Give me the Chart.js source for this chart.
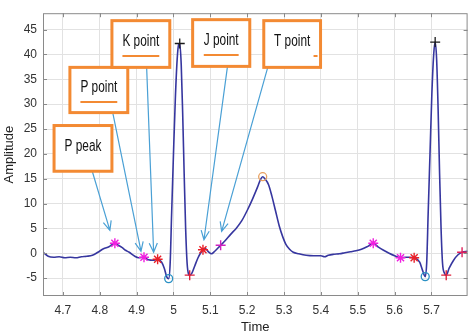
<!DOCTYPE html>
<html>
<head>
<meta charset="utf-8">
<title>ECG fiducial points</title>
<script src="https://cdn.jsdelivr.net/npm/chart.js@4.4.0/dist/chart.umd.min.js"></script>
<style>
  html, body { margin: 0; padding: 0; background: #fff; }
  #wrap { width: 474px; height: 336px; }
</style>
</head>
<body>
<div id="wrap"><canvas id="ecg" width="474" height="336"></canvas></div>
<script>
// ECG trace: time (s) and amplitude
const traceTime = [
  4.646, 4.660, 4.675, 4.690, 4.705, 4.720, 4.735, 4.750, 4.765, 4.780,
  4.795, 4.810, 4.825, 4.841, 4.850, 4.860, 4.870, 4.880, 4.895, 4.905,
  4.920, 4.932, 4.945, 4.957, 4.968, 4.975, 4.982, 4.987, 4.991, 4.995,
  5.000, 5.005, 5.010, 5.014, 5.017, 5.021, 5.025, 5.029, 5.033, 5.037,
  5.041, 5.044, 5.050, 5.058, 5.066, 5.074, 5.080, 5.087, 5.095, 5.103,
  5.112, 5.120, 5.128, 5.140, 5.155, 5.170, 5.185, 5.200, 5.215, 5.228,
  5.236, 5.242, 5.248, 5.258, 5.267, 5.277, 5.287, 5.297, 5.305, 5.315,
  5.325, 5.340, 5.360, 5.380, 5.400, 5.410, 5.420, 5.435, 5.450, 5.465,
  5.480, 5.495, 5.510, 5.525, 5.542, 5.555, 5.570, 5.585, 5.600, 5.616,
  5.630, 5.640, 5.653, 5.668, 5.676, 5.683, 5.687, 5.691, 5.696, 5.701,
  5.706, 5.710, 5.714, 5.718, 5.722, 5.726, 5.730, 5.735, 5.740, 5.748,
  5.760, 5.772, 5.783, 5.798
];
const traceAmp = [
  0.2, -0.6, -0.8, -0.7, -0.9, -0.8, -0.9, -0.7, -0.6, -0.4,
  0.2, 0.9, 1.3, 2.0, 1.6, 1.2, 0.6, 0.2, -0.6, -0.9,
  -0.8, -1.3, -1.4, -1.2, -1.8, -3.0, -4.8, -5.1, -2.0, 8.0,
  20.0, 31.0, 39.0, 42.0, 42.2, 38.0, 28.0, 16.0, 5.0, -2.0,
  -4.2, -4.4, -4.0, -2.5, -1.0, 0.1, 0.7, 0.9, 0.3, -0.1,
  0.4, 1.0, 1.6, 2.5, 3.8, 5.0, 6.5, 8.6, 11.0, 13.3,
  14.8, 15.4, 15.0, 13.8, 11.5, 8.5, 5.5, 3.2, 1.8, 0.8,
  0.2, -0.1, -0.4, -0.5, -0.5, -0.7, -0.4, -0.2, -0.1, 0.1,
  0.3, 0.5, 0.8, 1.3, 2.0, 1.3, 0.6, 0.0, -0.5, -0.9,
  -0.8, -0.8, -0.9, -1.8, -3.5, -4.7, -2.0, 8.0, 20.0, 32.0,
  40.0, 42.5, 39.0, 29.0, 16.0, 5.0, -2.0, -4.0, -4.4, -3.0,
  -1.4, -0.3, 0.2, 0.4
];

// Detected fiducial points: [time, amplitude]
const pPeaks   = [[4.841, 2.0], [5.542, 2.0]];
const pPoints  = [[4.920, -0.8], [5.616, -0.9]];
const kPoints  = [[4.957, -1.2], [5.653, -0.9]];
const qPoints  = [[4.987, -5.1], [5.683, -4.7]];
const rPeaks   = [[5.017, 42.2], [5.710, 42.5]];
const sPoints  = [[5.044, -4.4], [5.740, -4.4]];
const jPoints  = [[5.080, 0.7]];
const tOnsets  = [[5.128, 1.6]];
const tPeaks   = [[5.242, 15.4]];
const endPoints = [[5.783, 0.2]];

// Axis ticks
const xTickValues = [4.7, 4.8, 4.9, 5.0, 5.1, 5.2, 5.3, 5.4, 5.5, 5.6, 5.7];
const xTickLabels = ['4.7', '4.8', '4.9', '5', '5.1', '5.2', '5.3', '5.4', '5.5', '5.6', '5.7'];
const yTickValues = [-5, 0, 5, 10, 15, 20, 25, 30, 35, 40, 45];
const yTickLabels = ['-5', '0', '5', '10', '15', '20', '25', '30', '35', '40', '45'];

// Callout boxes: label, box extent [t0, t1, ampTop, ampBottom], target point
const calloutLabels = ['P peak', 'P point', 'K point', 'J point', 'T point'];
const calloutBoxes = [
  [4.676, 4.833, 25.7, 16.5],
  [4.719, 4.876, 37.4, 28.3],
  [4.833, 4.990, 46.8, 37.4],
  [5.052, 5.207, 47.0, 37.6],
  [5.245, 5.399, 46.8, 37.4]
];
const calloutTargets = [pPeaks[0], pPoints[0], kPoints[0], jPoints[0], tOnsets[0]];

const toXY = arr => arr.map(p => ({ x: p[0], y: p[1] }));
const traceData = traceTime.map((t, i) => ({ x: t, y: traceAmp[i] }));

function markerSet(points, style, color, radius, width) {
  return {
    data: toXY(points),
    showLine: false,
    pointStyle: style,
    pointRadius: radius,
    pointBorderColor: color,
    pointBackgroundColor: 'rgba(0,0,0,0)',
    pointBorderWidth: width,
    borderColor: color,
    backgroundColor: 'rgba(0,0,0,0)'
  };
}

// Frame, inward ticks, arrows and callout boxes
const decorations = {
  id: 'decorations',
  afterDatasetsDraw(chart) {
    const { ctx, chartArea: a, scales } = chart;
    const xs = scales.x, ys = scales.y;
    ctx.save();

    // frame
    ctx.strokeStyle = '#8a8a8a';
    ctx.lineWidth = 1;
    ctx.strokeRect(a.left + 0.5, a.top + 0.5, a.right - a.left - 1, a.bottom - a.top - 1);

    // inward tick marks on all sides
    ctx.beginPath();
    xTickValues.forEach(v => {
      const px = Math.round(xs.getPixelForValue(v)) + 0.5;
      ctx.moveTo(px, a.bottom); ctx.lineTo(px, a.bottom - 4);
      ctx.moveTo(px, a.top); ctx.lineTo(px, a.top + 4);
    });
    yTickValues.forEach(v => {
      const py = Math.round(ys.getPixelForValue(v)) + 0.5;
      ctx.moveTo(a.left, py); ctx.lineTo(a.left + 4, py);
      ctx.moveTo(a.right, py); ctx.lineTo(a.right - 4, py);
    });
    ctx.stroke();

    // arrows from callouts to their points
    const startFrac = [0.66, 0.74, 0.6, 0.61, 0.07];
    const tipOffset = [[-5, -13], [-3, -6], [-4, -7], [1, -10], [1, -14]];
    ctx.strokeStyle = '#4aa0d5';
    ctx.lineWidth = 1.2;
    calloutBoxes.forEach((b, i) => {
      const x0 = xs.getPixelForValue(b[0]), x1 = xs.getPixelForValue(b[1]);
      const yb = ys.getPixelForValue(b[3]);
      const sx = x0 + (x1 - x0) * startFrac[i], sy = yb;
      const tgt = calloutTargets[i];
      const tx = xs.getPixelForValue(tgt[0]) + tipOffset[i][0];
      const ty = ys.getPixelForValue(tgt[1]) + tipOffset[i][1];
      const ang = Math.atan2(ty - sy, tx - sx);
      const head = 10, spread = 0.42;
      ctx.beginPath();
      ctx.moveTo(sx, sy); ctx.lineTo(tx, ty);
      ctx.moveTo(tx - head * Math.cos(ang - spread), ty - head * Math.sin(ang - spread));
      ctx.lineTo(tx, ty);
      ctx.lineTo(tx - head * Math.cos(ang + spread), ty - head * Math.sin(ang + spread));
      ctx.stroke();
    });

    // callout boxes
    const underline = [false, true, true, true, false];
    const squeeze = 0.74;
    calloutBoxes.forEach((b, i) => {
      const x0 = xs.getPixelForValue(b[0]), x1 = xs.getPixelForValue(b[1]);
      const y0 = ys.getPixelForValue(b[2]), y1 = ys.getPixelForValue(b[3]);
      ctx.fillStyle = '#ffffff';
      ctx.fillRect(x0, y0, x1 - x0, y1 - y0);
      ctx.strokeStyle = '#f38a33';
      ctx.lineWidth = 3;
      ctx.strokeRect(x0, y0, x1 - x0, y1 - y0);
      const cx = (x0 + x1) / 2, cy = (y0 + y1) / 2 - 2;
      ctx.font = '16px "Liberation Sans", Arial, sans-serif';
      const w = ctx.measureText(calloutLabels[i]).width * squeeze;
      ctx.save();
      ctx.translate(cx, cy);
      ctx.scale(squeeze, 1);
      ctx.fillStyle = '#111111';
      ctx.textAlign = 'center';
      ctx.textBaseline = 'middle';
      ctx.fillText(calloutLabels[i], 0, 0);
      ctx.restore();
      ctx.strokeStyle = '#f38a33';
      ctx.lineWidth = 2;
      if (underline[i]) {
        ctx.beginPath();
        ctx.moveTo(cx - w / 2, cy + 14); ctx.lineTo(cx + w / 2, cy + 14);
        ctx.stroke();
      } else if (i === 4) {
        ctx.beginPath();
        ctx.moveTo(x1 - 7, cy + 14); ctx.lineTo(x1 - 3, cy + 14);
        ctx.stroke();
      }
    });
    ctx.restore();
  }
};

new Chart(document.getElementById('ecg'), {
  type: 'scatter',
  data: {
    datasets: [
      {
        data: traceData,
        showLine: true,
        borderColor: '#36369f',
        borderWidth: 1.6,
        pointRadius: 0,
        cubicInterpolationMode: 'monotone',
        order: 2
      },
      markerSet(pPeaks, 'star', '#f020e0', 5, 1.4),
      markerSet(pPoints, 'star', '#f020e0', 5, 1.4),
      markerSet(kPoints, 'star', '#e8202a', 5, 1.4),
      markerSet(qPoints, 'circle', '#2a90c4', 4, 1.3),
      markerSet(rPeaks, 'cross', '#1a1a1a', 5, 1.3),
      markerSet(sPoints, 'cross', '#e0203a', 5, 1.4),
      markerSet(jPoints, 'star', '#e8202a', 5, 1.4),
      markerSet(tOnsets, 'cross', '#d020c0', 5, 1.4),
      markerSet(tPeaks, 'circle', '#e8a060', 4, 1.3),
      markerSet(endPoints, 'cross', '#e0205a', 5, 1.4)
    ]
  },
  options: {
    responsive: false,
    animation: false,
    layout: { padding: { top: 5, right: 6, left: 0, bottom: 0 } },
    plugins: { legend: { display: false }, tooltip: { enabled: false } },
    scales: {
      x: {
        type: 'linear',
        min: 4.646,
        max: 5.798,
        afterBuildTicks: s => { s.ticks = xTickValues.map(v => ({ value: v })); },
        afterFit: s => { s.height = 40; },
        ticks: {
          padding: 7,
          color: '#333',
          font: { family: '"Liberation Sans", Arial, sans-serif', size: 12 },
          callback: (v) => { const i = xTickValues.indexOf(v); return i >= 0 ? xTickLabels[i] : ''; }
        },
        grid: { color: '#e2e2e2', drawTicks: false },
        border: { display: false },
        title: {
          display: true, text: 'Time', color: '#222',
          font: { family: '"Liberation Sans", Arial, sans-serif', size: 13 },
          padding: { top: 0, bottom: 1 }
        }
      },
      y: {
        type: 'linear',
        min: -8.6,
        max: 48.3,
        afterBuildTicks: s => { s.ticks = yTickValues.map(v => ({ value: v })); },
        afterFit: s => { s.width = 43; },
        ticks: {
          padding: 6,
          color: '#333',
          font: { family: '"Liberation Sans", Arial, sans-serif', size: 12 },
          callback: (v) => { const i = yTickValues.indexOf(v); return i >= 0 ? yTickLabels[i] : ''; }
        },
        grid: { color: '#e2e2e2', drawTicks: false },
        border: { display: false },
        title: {
          display: true, text: 'Amplitude', color: '#222',
          font: { family: '"Liberation Sans", Arial, sans-serif', size: 13 },
          padding: { top: 2, bottom: 0 }
        }
      }
    }
  },
  plugins: [decorations]
});
</script>
</body>
</html>
